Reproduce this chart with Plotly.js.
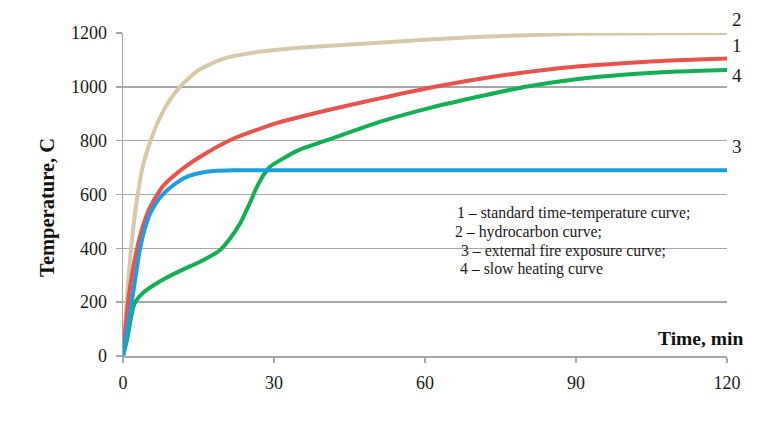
<!DOCTYPE html>
<html>
<head>
<meta charset="utf-8">
<script src="https://cdn.plot.ly/plotly-3.0.1.min.js"></script>
<style>html,body{margin:0;padding:0;background:#fff;}#chart{width:768px;height:426px;}</style>
</head>
<body>
<div id="chart"></div>
<script>
// 1 – standard time-temperature curve
const tStandard = [0, 1, 2, 3, 4, 5.4, 8, 12, 16, 22, 31, 41, 51, 60, 71, 87, 100, 110, 120];
const TStandard = [0, 200, 325, 415, 485, 554, 632, 698, 748, 808, 868, 915, 957, 993, 1030, 1070, 1089, 1099, 1105];

// 2 – hydrocarbon curve
const tHydro = [0, 1, 2, 3, 4, 5.4, 7, 9, 11.3, 15, 20, 27, 35, 50, 70, 90, 120];
const THydro = [0, 270, 470, 610, 710, 795, 872, 942, 1000, 1062, 1105, 1130, 1145, 1163, 1185, 1197, 1200];

// 3 – external fire exposure curve
const tExternal = [0, 0.6, 1.4, 2.4, 3.4, 4.3, 5.4, 7, 8.7, 11, 13, 15.3, 18, 22, 30, 60, 90, 120];
const TExternal = [0, 70, 160, 282, 400, 470, 530, 580, 615, 648, 668, 680, 687, 690, 690, 690, 690, 690];

// 4 – slow heating curve
const tSlow = [0, 0.8, 1.4, 2, 2.7, 4, 6, 8.7, 12, 15.3, 19.3, 21, 23.2, 25, 26.6, 28, 29.2, 31, 35, 41, 51, 61, 71, 80, 90, 100, 110, 120];
const TSlow = [0, 60, 123, 180, 208, 235, 262, 292, 322, 350, 394, 430, 490, 560, 628, 675, 703, 725, 766, 805, 870, 922, 965, 1000, 1028, 1046, 1057, 1063];

const xTicks = [0, 30, 60, 90, 120];
const yTicks = [0, 200, 400, 600, 800, 1000, 1200];

const curveLabels = ["2", "1", "4", "3"];
const curveLabelY = [1249, 1152, 1043, 777];

const legendLines = [
  "1 – standard time-temperature curve;",
  "2 – hydrocarbon curve;",
  " 3 – external fire exposure curve;",
  " 4 – slow heating curve"
];

const serif = "Liberation Serif";

function trace(x, y, color) {
  return {x: x, y: y, type: 'scatter', mode: 'lines',
    line: {color: color, width: 4, shape: 'spline', smoothing: 0.6},
    hoverinfo: 'skip', showlegend: false};
}

const data = [
  trace(tHydro, THydro, '#d6c9a8'),
  trace(tStandard, TStandard, '#e8534b'),
  trace(tSlow, TSlow, '#12b052'),
  trace(tExternal, TExternal, '#1c9ee0')
];

const annotations = [];
curveLabels.forEach((lab, i) => {
  annotations.push({x: 1, y: curveLabelY[i] / 1200, xref: 'paper', yref: 'paper', text: lab,
    showarrow: false, xanchor: 'left', yanchor: 'middle', xshift: 3, font: {family: serif, size: 19, color: '#1a1a1a'}});
});
const legendX = [455, 453, 455, 454];
const legendY = [213, 232, 251, 269];
legendLines.forEach((s, i) => {
  annotations.push({x: (legendX[i] - 123) / 604, y: (356 - legendY[i]) / 323, xref: 'paper', yref: 'paper',
    text: s, showarrow: false, xanchor: 'left', yanchor: 'middle', font: {family: serif, size: 15.8, color: '#1a1a1a'}});
});
annotations.push({x: 1.03, y: (356 - 338) / 323, xref: 'paper', yref: 'paper', text: '<b>Time, min</b>',
  showarrow: false, xanchor: 'right', yanchor: 'middle', font: {family: serif, size: 19.5, color: '#111'}});
annotations.push({x: -0.126, y: (356 - 207) / 323, xref: 'paper', yref: 'paper', text: '<b>Temperature, C</b>',
  showarrow: false, textangle: -90, xanchor: 'center', yanchor: 'middle', font: {family: serif, size: 20.5, color: '#111'}});

const layout = {
  width: 768, height: 426,
  margin: {l: 123, r: 41, t: 33, b: 70},
  paper_bgcolor: '#fff', plot_bgcolor: '#fff',
  font: {family: serif, size: 18, color: '#1a1a1a'},
  xaxis: {range: [0, 120], tickvals: xTicks, ticktext: xTicks.map(String),
    showgrid: false, zeroline: false, showline: true, linecolor: '#a6a6a6', linewidth: 1.5,
    ticks: 'outside', ticklen: 5, tickwidth: 1.2, tickcolor: '#a6a6a6', ticklabelstandoff: 5,
    fixedrange: true},
  yaxis: {range: [0, 1200], tickvals: yTicks, ticktext: yTicks.map(String),
    showgrid: true, gridcolor: '#a6a6a6', gridwidth: 1.5, zeroline: false,
    showline: true, linecolor: '#a6a6a6', linewidth: 1.5,
    ticks: 'outside', ticklen: 6, tickwidth: 1.5, tickcolor: '#a6a6a6', ticklabelstandoff: 5,
    fixedrange: true},
  annotations: annotations
};

Plotly.newPlot('chart', data, layout, {displayModeBar: false, staticPlot: true});
</script>
</body>
</html>
